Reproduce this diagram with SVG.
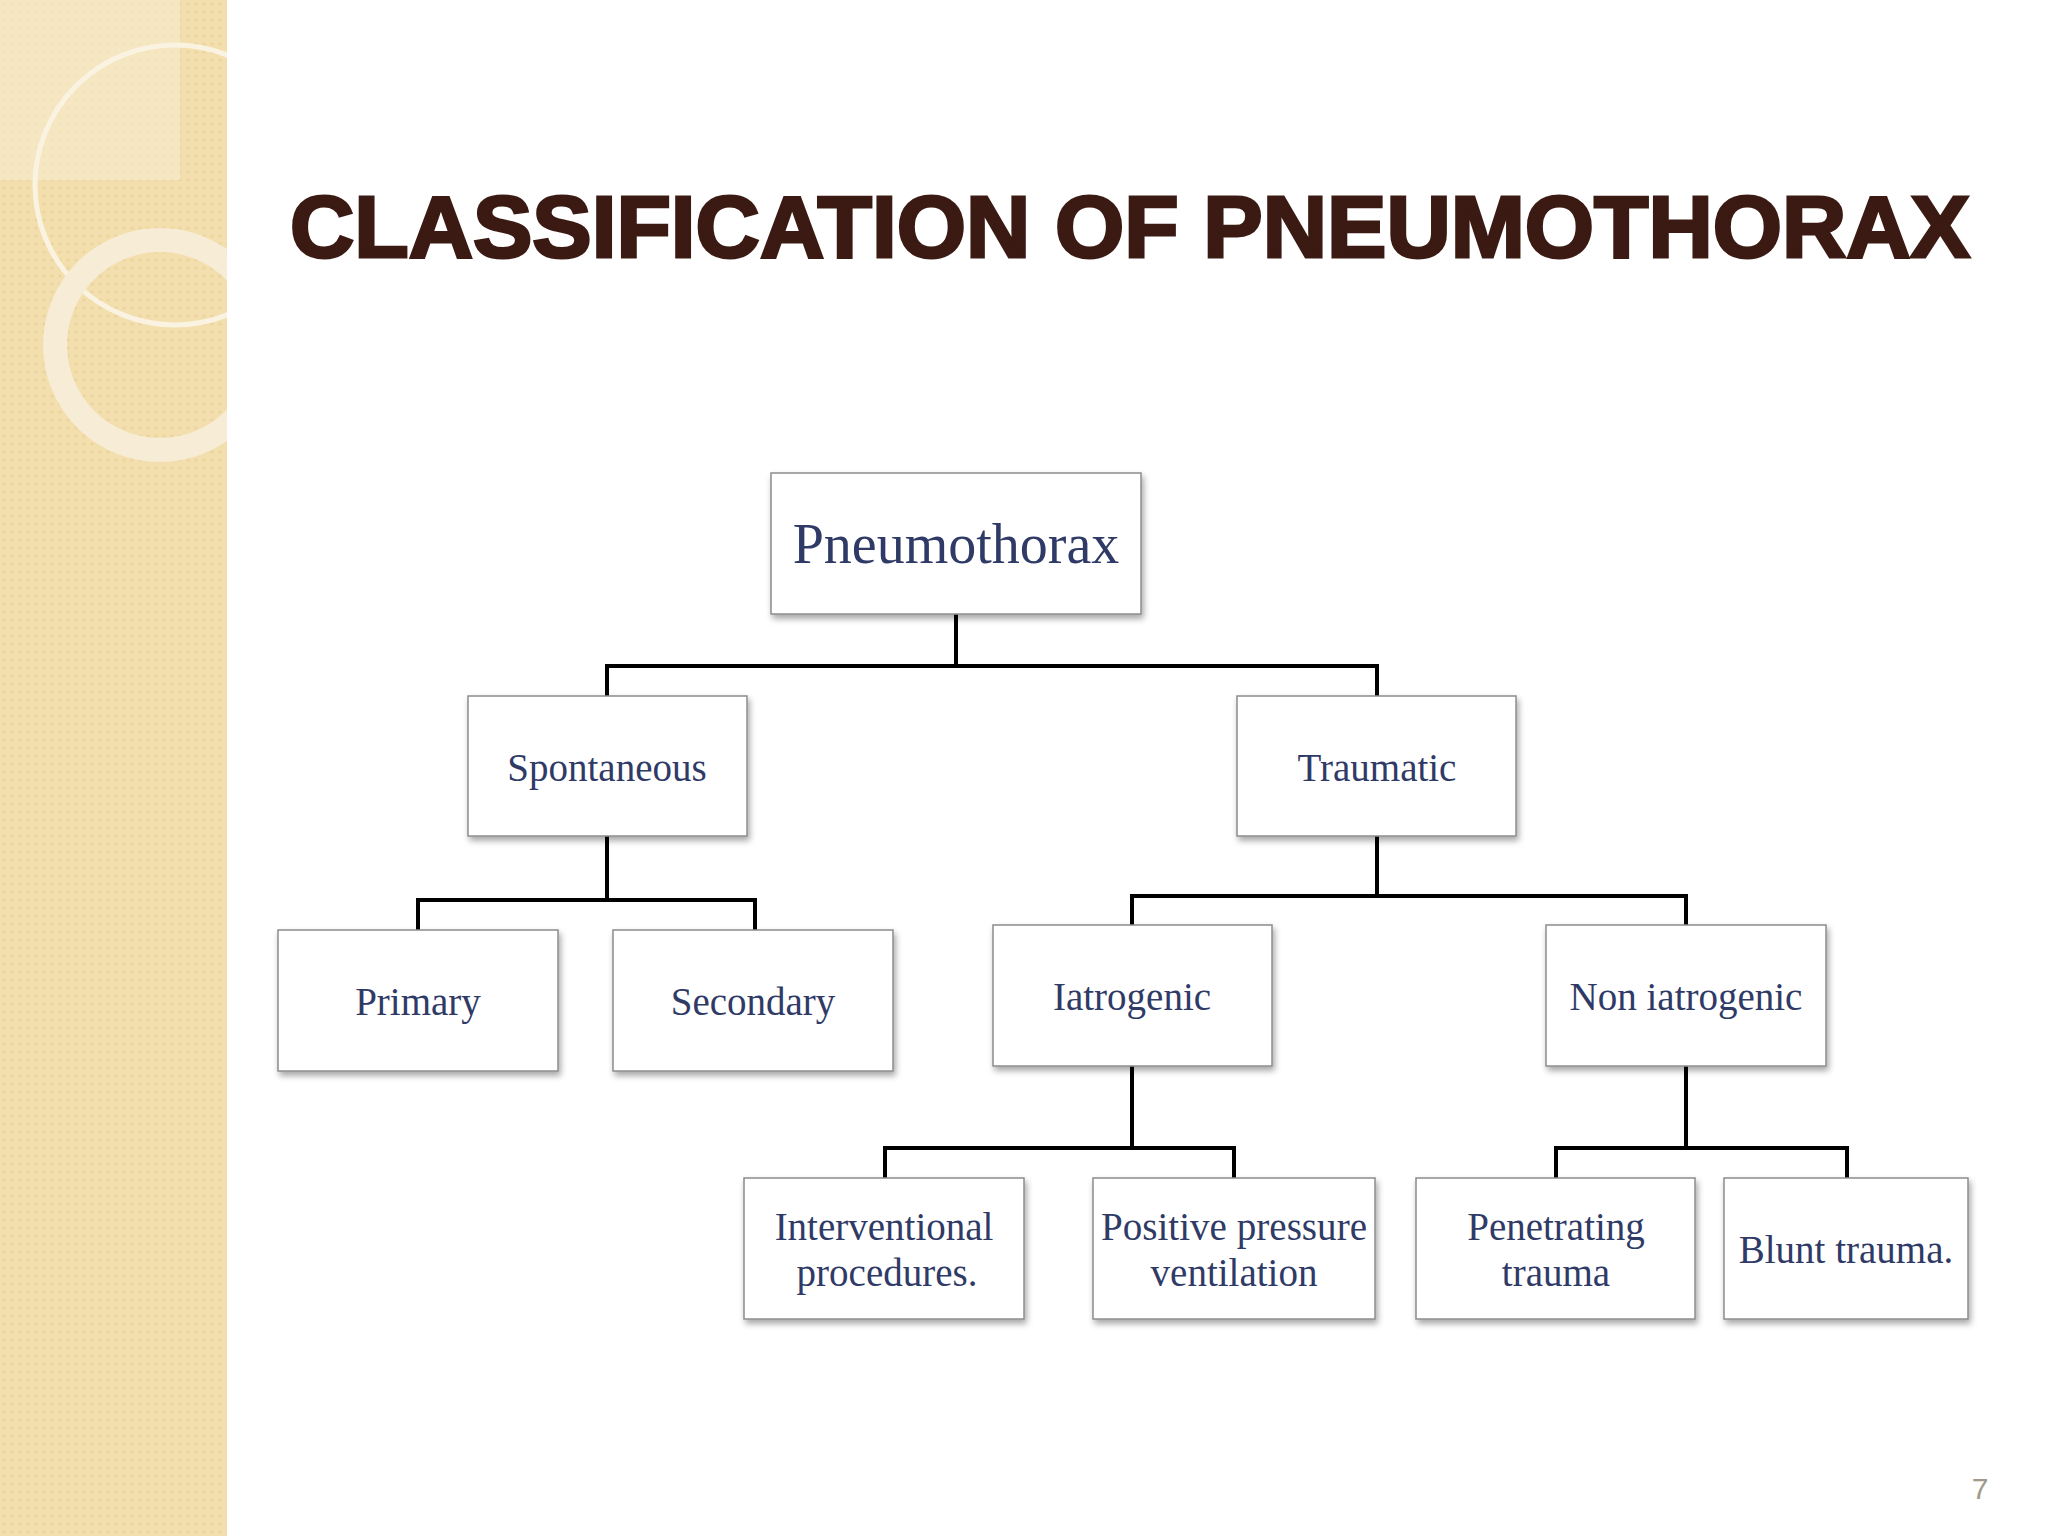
<svg xmlns="http://www.w3.org/2000/svg" width="2048" height="1536" viewBox="0 0 2048 1536">
<defs>
<filter id="sh" x="-10%" y="-10%" width="130%" height="130%"><feDropShadow dx="2" dy="4" stdDeviation="3" flood-color="#000" flood-opacity="0.35"/></filter>
<pattern id="dots" width="8" height="8" patternUnits="userSpaceOnUse"><rect width="8" height="8" fill="#f3dfae"/><circle cx="4" cy="4" r="1.6" fill="#ead39c"/></pattern>
<clipPath id="side"><rect width="227" height="1536"/></clipPath>
</defs>
<style>
.box{fill:#fff;stroke:#8c8c8c;stroke-width:1.5;filter:url(#sh)}
.t{font-family:"Liberation Serif",serif;font-size:39px;fill:#2f3a66;text-anchor:middle}
.c{fill:none;stroke:#000;stroke-width:4}
</style>
<rect width="2048" height="1536" fill="#fff"/>
<g clip-path="url(#side)">
<rect width="227" height="1536" fill="url(#dots)"/>
<rect x="0" y="0" width="180" height="180" fill="#f8ecd0" opacity="0.6"/>
<circle cx="175" cy="185" r="140" fill="none" stroke="#fbf3e2" stroke-width="5"/>
<circle cx="160" cy="345" r="105" fill="none" stroke="#f7ecd6" stroke-width="24"/>
</g>
<text x="290" y="257" font-family="Liberation Sans,Arial,sans-serif" font-weight="bold" font-size="88" fill="#3a1a12" stroke="#3a1a12" stroke-width="3" textLength="1680" lengthAdjust="spacingAndGlyphs">CLASSIFICATION OF PNEUMOTHORAX</text>
<g id="connectors">
<path class="c" d="M956 614V666M607 696V666H1377V696"/>
<path class="c" d="M607 836V900M418 930V900H755V930"/>
<path class="c" d="M1377 836V896M1132 925V896H1686V925"/>
<path class="c" d="M1132 1066V1148M885 1178V1148H1234V1178"/>
<path class="c" d="M1686 1066V1148M1556 1178V1148H1847V1178"/>
</g>
<g id="n-pneumothorax"><rect class="box" x="771" y="473" width="370" height="141"/><text class="t" x="956" y="563" style="font-size:56px">Pneumothorax</text></g>
<g id="n-spontaneous"><rect class="box" x="468" y="696" width="279" height="140"/><text class="t" x="607" y="781">Spontaneous</text></g>
<g id="n-traumatic"><rect class="box" x="1237" y="696" width="279" height="140"/><text class="t" x="1377" y="781">Traumatic</text></g>
<g id="n-primary"><rect class="box" x="278" y="930" width="280" height="141"/><text class="t" x="418" y="1015">Primary</text></g>
<g id="n-secondary"><rect class="box" x="613" y="930" width="280" height="141"/><text class="t" x="753" y="1015">Secondary</text></g>
<g id="n-iatrogenic"><rect class="box" x="993" y="925" width="279" height="141"/><text class="t" x="1132" y="1010">Iatrogenic</text></g>
<g id="n-noniatrogenic"><rect class="box" x="1546" y="925" width="280" height="141"/><text class="t" x="1686" y="1010">Non iatrogenic</text></g>
<g id="n-interventional"><rect class="box" x="744" y="1178" width="280" height="141"/><text class="t" x="884" y="1240">Interventional</text><text class="t" x="887" y="1286">procedures.</text></g>
<g id="n-positive"><rect class="box" x="1093" y="1178" width="282" height="141"/><text class="t" x="1234" y="1240" textLength="266" lengthAdjust="spacingAndGlyphs">Positive pressure</text><text class="t" x="1234" y="1286">ventilation</text></g>
<g id="n-penetrating"><rect class="box" x="1416" y="1178" width="279" height="141"/><text class="t" x="1556" y="1240">Penetrating</text><text class="t" x="1556" y="1286">trauma</text></g>
<g id="n-blunt"><rect class="box" x="1724" y="1178" width="244" height="141"/><text class="t" x="1846" y="1263">Blunt trauma.</text></g>
<text x="1980" y="1499" font-family="Liberation Sans,Arial,sans-serif" font-size="30" fill="#a09a8a" text-anchor="middle">7</text>
</svg>
